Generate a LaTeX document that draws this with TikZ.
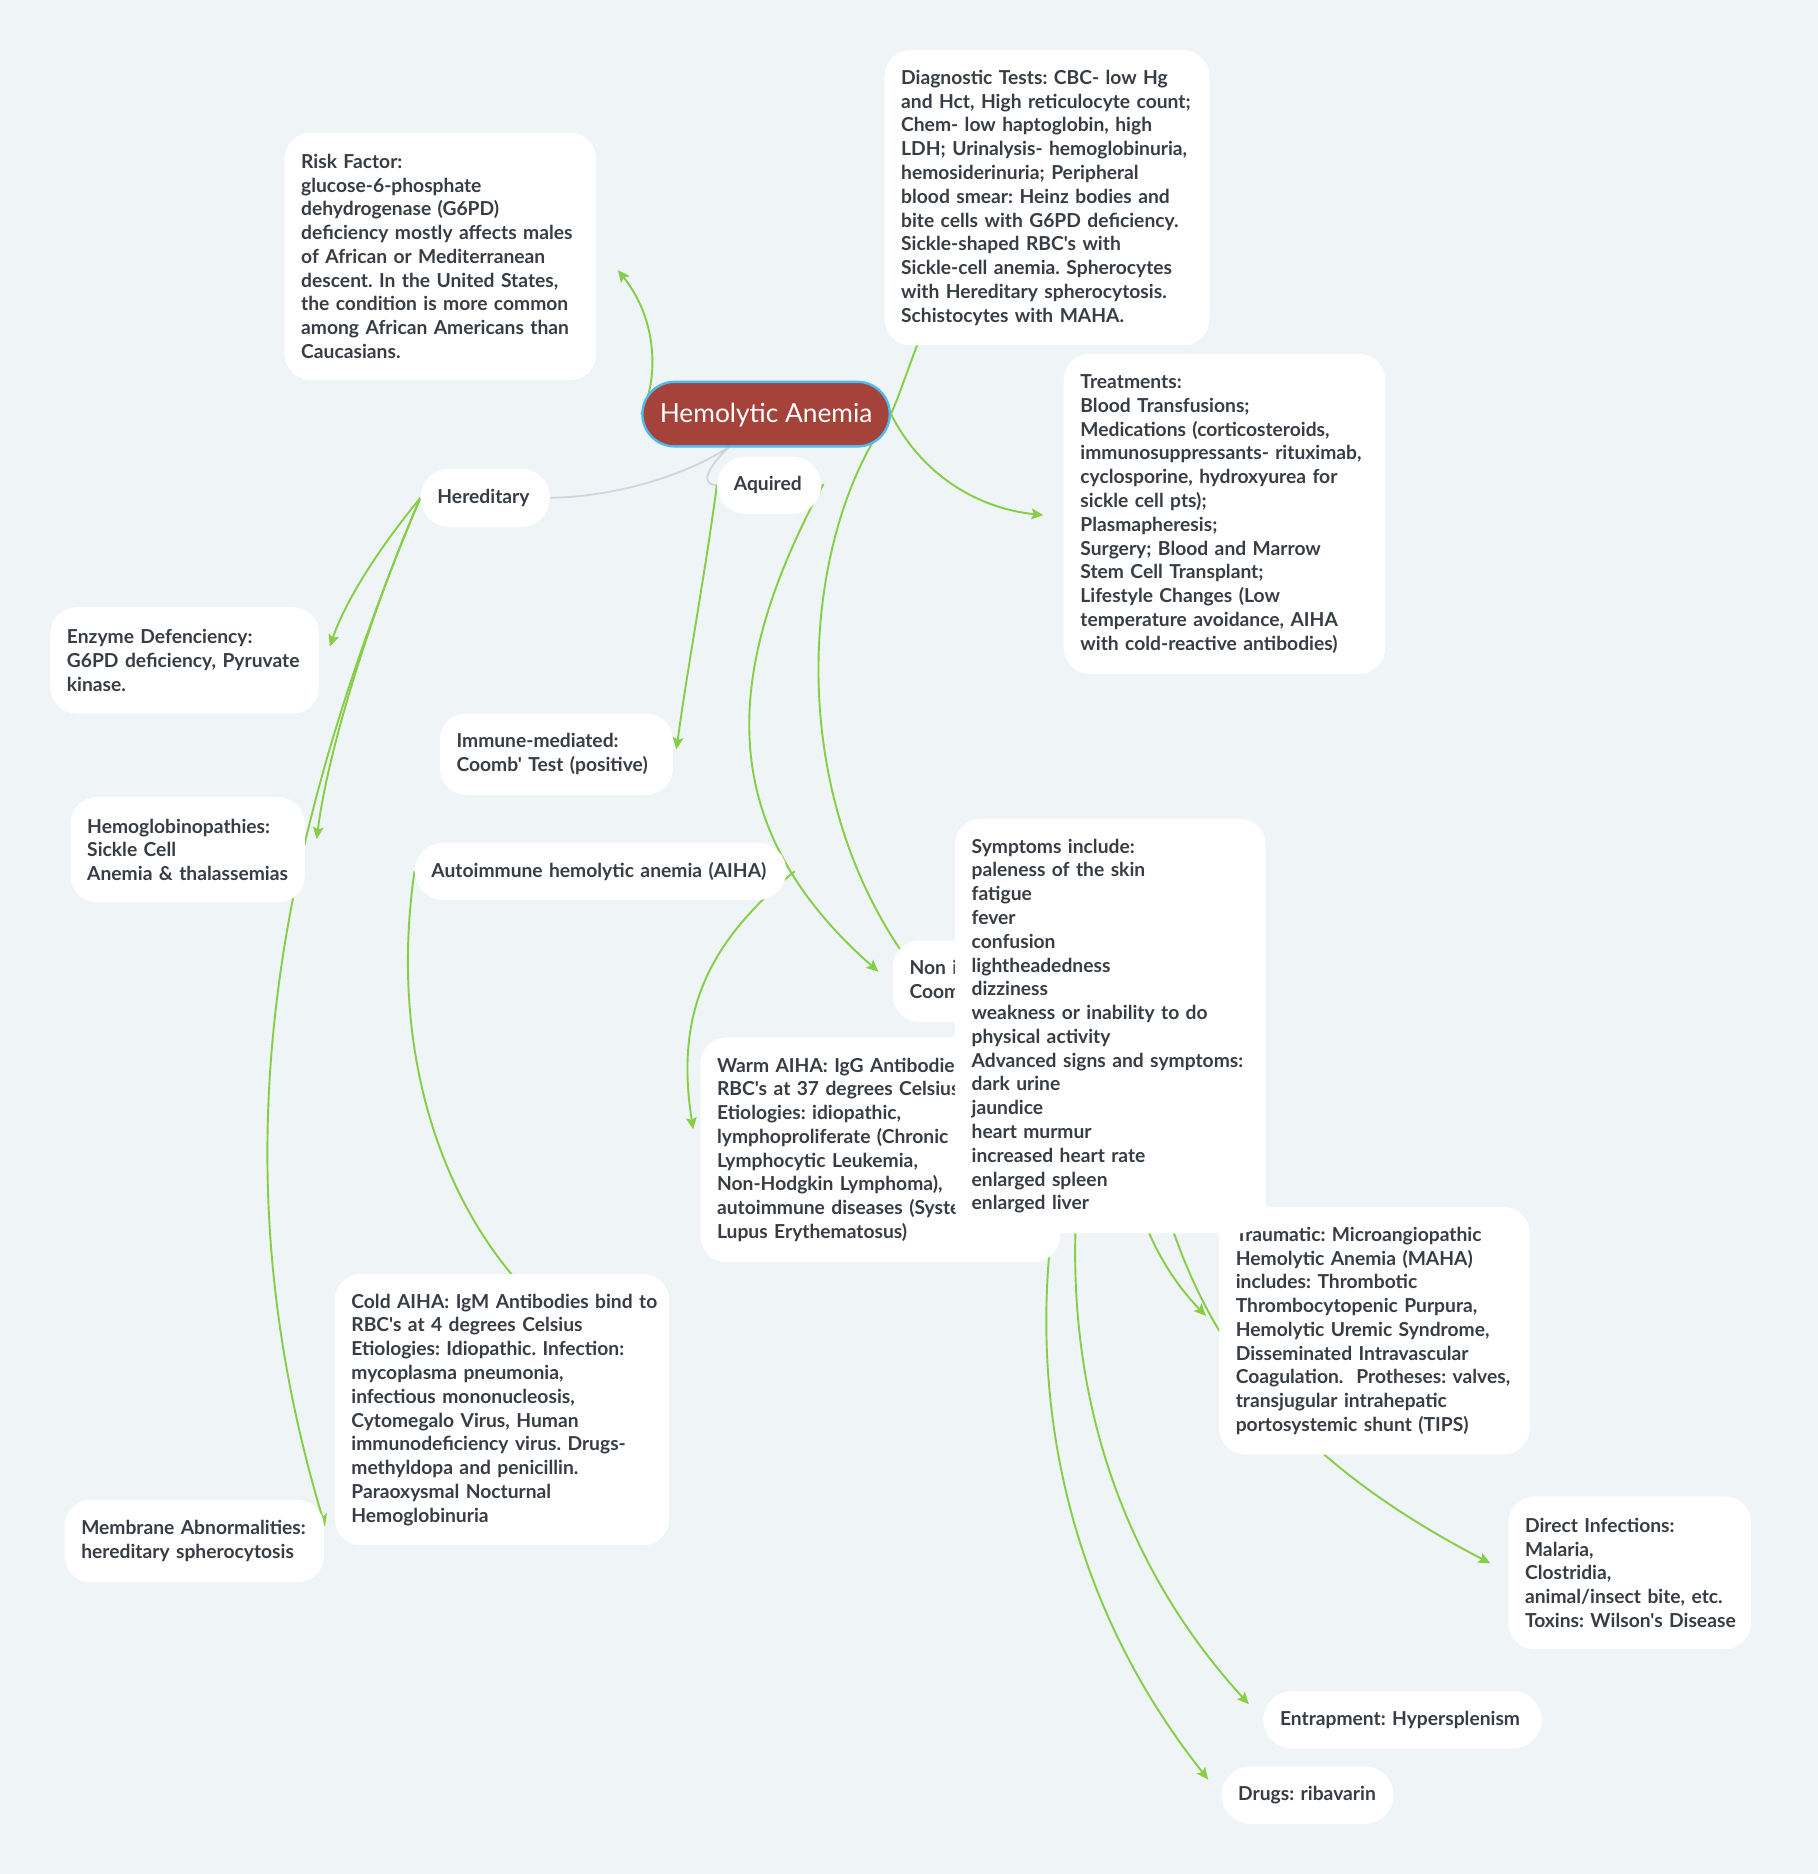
\documentclass[tikz,border=0pt]{standalone}
\usepackage{fontspec}
\setmainfont{Lato}[Ligatures=TeXOff]
\usetikzlibrary{arrows.meta,calc}
\pgfdeclarelayer{back}\pgfdeclarelayer{edges}
\pgfsetlayers{back,edges,main}
\definecolor{pagebg}{HTML}{EFF4F7}
\definecolor{inkc}{HTML}{373D44}
\definecolor{linkgreen}{HTML}{87CE47}
\definecolor{linkgrey}{HTML}{CFD5D9}
\definecolor{titlefill}{HTML}{A5433B}
\definecolor{titleline}{HTML}{4DBBEE}
\tikzset{
  topic/.style={fill=white,rounded corners=22pt,inner xsep=14pt,inner ysep=0pt,align=left,text=inkc,
     font=\fontsize{16.1}{19.9}\selectfont\bfseries\frenchspacing,anchor=center},
  pill/.style={topic,rounded corners=24pt},
  rootnode/.style={fill=titlefill,draw=titleline,line width=2pt,rounded corners=27pt,text=white,
     font=\fontsize{22}{26}\selectfont,minimum width=207pt,minimum height=54pt,inner sep=0pt},
  link/.style={draw=linkgreen,line width=1.6pt,-{Stealth[length=10pt,width=9pt,inset=2pt]}},
  greylink/.style={draw=linkgrey,line width=1.5pt}
}
\begin{document}
\begin{tikzpicture}[x=1pt,y=-1pt]
\begin{pgfonlayer}{back}
\fill[pagebg] (0,0) rectangle (1521,1568);
\end{pgfonlayer}
\useasboundingbox (0,0) rectangle (1521,1568);

\node[rootnode] (title) at (641,346.5) {\raisebox{-1pt}[\height][\depth]{Hemolytic Anemia}};
\node[topic,text width=233pt,minimum height=207pt] (risk) at (368.5,214.5) {Risk Factor:\\glucose-6-phosphate\\dehydrogenase (G6PD)\\deficiency mostly affects males\\of African or Mediterranean\\descent. In the United States,\\the condition is more common\\among African Americans than\\Caucasians.};
\node[topic,text width=244pt,minimum height=247pt] (diag) at (876,165.5) {Diagnostic Tests: CBC- low Hg\\and Hct, High reticulocyte count;\\Chem- low haptoglobin, high\\LDH; Urinalysis- hemoglobinuria,\\hemosiderinuria; Peripheral\\blood smear: Heinz bodies and\\bite cells with G6PD deficiency.\\Sickle-shaped RBC's with\\Sickle-cell anemia. Spherocytes\\with Hereditary spherocytosis.\\Schistocytes with MAHA.};
\node[topic,text width=241pt,minimum height=268pt] (treat) at (1024.5,430) {Treatments:\\Blood Transfusions;\\Medications (corticosteroids,\\immunosuppressants- rituximab,\\cyclosporine, hydroxyurea for\\sickle cell pts);\\Plasmapheresis;\\Surgery; Blood and Marrow\\Stem Cell Transplant;\\Lifestyle Changes (Low\\temperature avoidance, AIHA\\with cold-reactive antibodies)};
\node[pill,text width=80pt,minimum height=49pt] (hered) at (406,416.5) {Hereditary};
\node[pill,text width=59pt,minimum height=48pt] (aq) at (643.5,406) {Aquired};
\node[topic,text width=197pt,minimum height=89pt] (enz) at (154.5,552.5) {Enzyme Defenciency:\\G6PD deficiency, Pyruvate\\kinase.};
\node[topic,text width=167pt,minimum height=68pt] (imm) at (465.5,631) {Immune-mediated:\\Coomb' Test (positive)};
\node[topic,text width=168pt,minimum height=88pt] (hgb) at (157,711) {Hemoglobinopathies:\\Sickle Cell\\Anemia \& thalassemias};
\node[pill,text width=283pt,minimum height=48pt] (aiha) at (502.5,729) {Autoimmune hemolytic anemia (AIHA)};
\node[topic,text width=165pt,minimum height=68pt] (nonimm) at (843.5,821) {\mbox{Non immune-mediated:}\\\mbox{Coomb' Test (negative)}};
\node[topic,text width=273pt,minimum height=188pt] (warm) at (736.5,962) {\mbox{Warm AIHA: IgG Antibodies bind to}\\RBC's at 37 degrees Celsius\\Etiologies: idiopathic,\\lymphoproliferate (Chronic\\Lymphocytic Leukemia,\\Non-Hodgkin Lymphoma),\\autoimmune diseases (Systemic\\Lupus Erythematosus)};
\node[topic,text width=232pt,minimum height=207pt] (traum) at (1150,1113.5) {Traumatic: Microangiopathic\\Hemolytic Anemia (MAHA)\\includes: Thrombotic\\Thrombocytopenic Purpura,\\Hemolytic Uremic Syndrome,\\Disseminated Intravascular\\\mbox{Coagulation.\ \ Protheses: valves,}\\transjugular intrahepatic\\portosystemic shunt (TIPS)};
\node[topic,text width=232pt,minimum height=347pt] (sympt) at (929,858.5) {Symptoms include:\\paleness of the skin\\fatigue\\fever\\confusion\\lightheadedness\\dizziness\\weakness or inability to do\\physical activity\\Advanced signs and symptoms:\\dark urine\\jaundice\\heart murmur\\increased heart rate\\enlarged spleen\\enlarged liver};
\node[topic,text width=252pt,minimum height=227pt] (cold) at (420,1179.5) {\mbox{Cold AIHA: IgM Antibodies bind to}\\RBC's at 4 degrees Celsius\\Etiologies: Idiopathic. Infection:\\mycoplasma pneumonia,\\infectious mononucleosis,\\Cytomegalo Virus, Human\\immunodeficiency virus. Drugs-\\methyldopa and penicillin.\\Paraoxysmal Nocturnal\\Hemoglobinuria};
\node[topic,text width=189pt,minimum height=69pt] (memb) at (162.5,1289.5) {Membrane Abnormalities:\\hereditary spherocytosis};
\node[topic,text width=175pt,minimum height=128pt] (direct) at (1363.5,1316) {Direct Infections:\\Malaria,\\Clostridia,\\animal/insect bite, etc.\\\mbox{Toxins: Wilson's Disease}};
\node[pill,text width=205pt,minimum height=48pt] (entrap) at (1173.5,1439) {Entrapment: Hypersplenism};
\node[pill,text width=116pt,minimum height=48pt] (drugs) at (1094,1502) {Drugs: ribavarin};

\coordinate (riskin) at (517,226);
\coordinate (treatin) at (873,431);
\coordinate (titlelow) at (610,374);
\coordinate (enzin) at (276,541);
\coordinate (hgbin) at (265,702);
\coordinate (membin) at (272,1277);
\coordinate (immin) at (566,627);
\coordinate (nonin) at (735,813);
\coordinate (aqout) at (689,405);
\coordinate (aihaout) at (665,729);
\coordinate (warmin) at (580,945);
\coordinate (traumin) at (1009,1101);
\coordinate (directin) at (1247,1308);
\coordinate (entrapin) at (1045,1426);
\coordinate (drugsin) at (1011,1489);
\coordinate (sympin) at (785,835);
\coordinate (coldin) at (452,1092);

\begin{pgfonlayer}{edges}
\draw[link] (title.west) .. controls (550,320) and (552,270) .. (riskin);
\draw[link] (title.east) .. controls (770,395) and (815,425) .. (treatin);
\draw[link] (title.east) .. controls (768,295) and (790,190) .. (diag.center);
\draw[link] (title.east) .. controls (668,450) and (650,680) .. (sympin);
\draw[greylink] (titlelow) .. controls (570,400) and (510,416) .. (hered.east);
\draw[greylink] (titlelow) .. controls (598,385) and (582,405) .. (aq.west);
\draw[link] (hered.west) .. controls (320,455) and (290,500) .. (enzin);
\draw[link] (hered.west) .. controls (315,500) and (275,622) .. (hgbin);
\draw[link] (hered.west) .. controls (215,740) and (188,997) .. (membin);
\draw[link] (aq.west) .. controls (590,480) and (575,560) .. (immin);
\draw[link] (aqout) .. controls (605,560) and (595,690) .. (nonin);
\draw[link] (aihaout) .. controls (590,790) and (565,850) .. (warmin);
\draw[link] (aiha.west) .. controls (325,880) and (370,1010) .. (coldin);
\draw[link] (nonimm.east) .. controls (925,950) and (950,1040) .. (traumin);
\draw[link] (nonimm.east) .. controls (965,1030) and (1000,1180) .. (directin);
\draw[link] (nonimm.east) .. controls (875,1000) and (875,1240) .. (entrapin);
\draw[link] (nonimm.east) .. controls (845,1020) and (845,1280) .. (drugsin);
\end{pgfonlayer}
\end{tikzpicture}
\end{document}
